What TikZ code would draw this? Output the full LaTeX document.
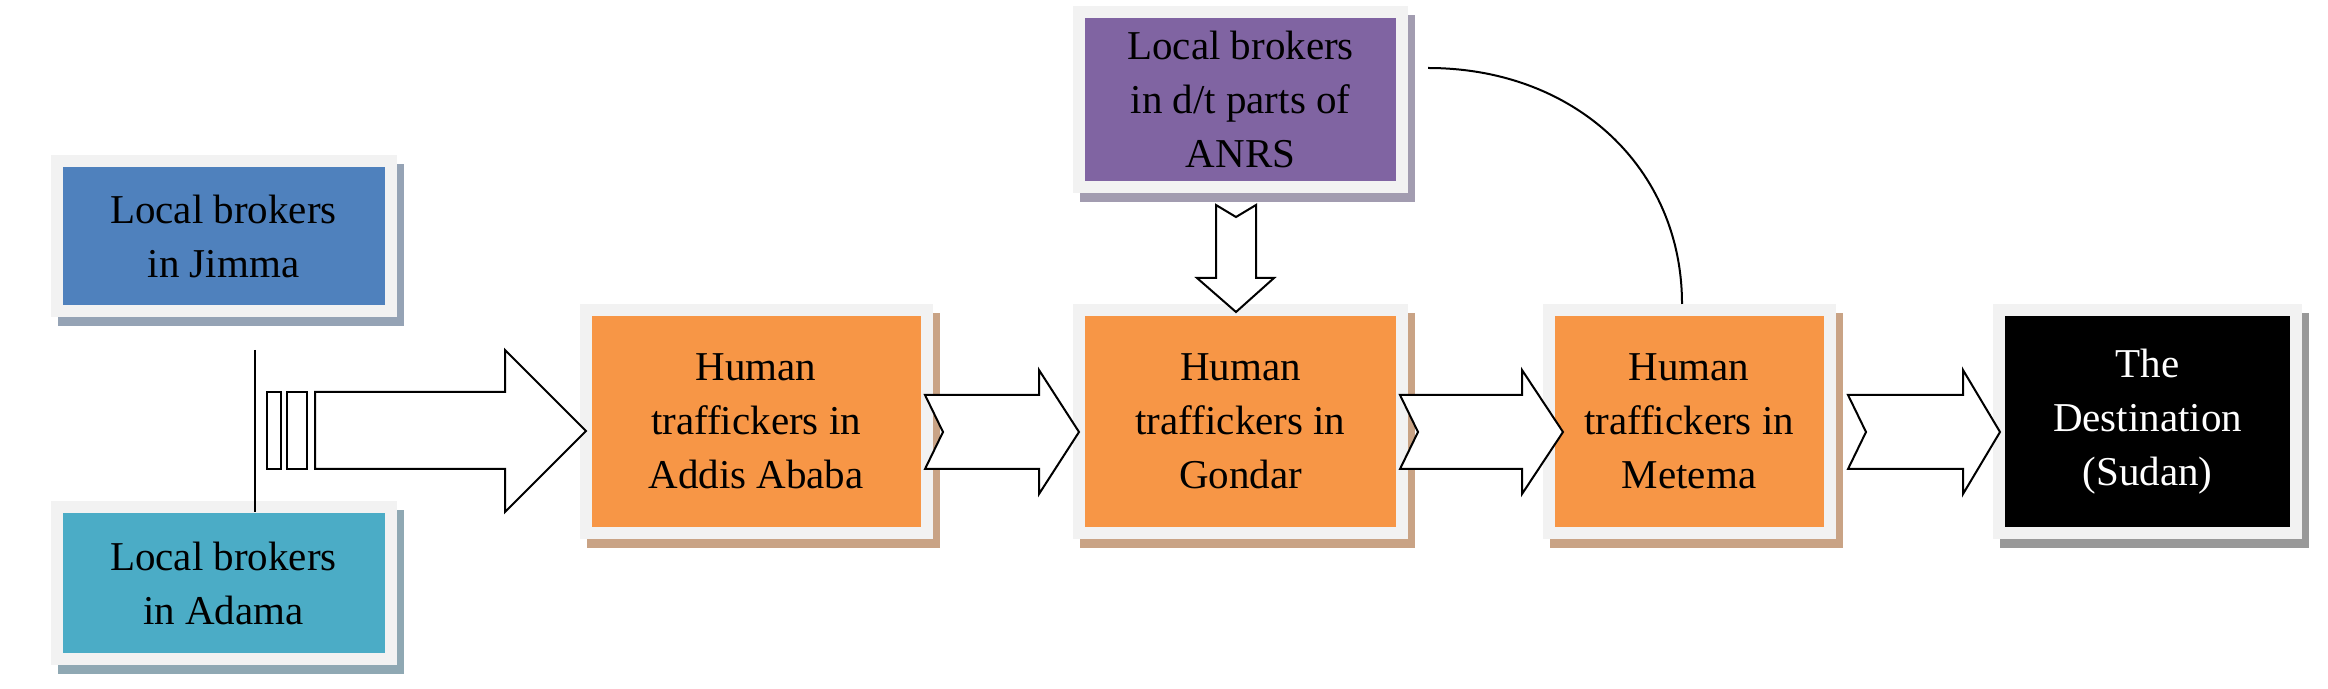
\documentclass[tikz,border=0pt]{standalone}
\usepackage{fontspec}
\setmainfont{Liberation Serif}
\begin{document}
\begin{tikzpicture}[x=1pt,y=1pt,
  box/.style={draw=black!5,line width=12pt,align=center,inner sep=0pt,
    font=\fontsize{41}{54}\selectfont,
    preaction={draw=#1,fill=#1,transform canvas={shift={(7pt,-9pt)}}}},
  blk/.style={draw=black,line width=2pt,fill=white,line join=miter}]
\useasboundingbox (0,0) rectangle (2328,688);
\definecolor{cJ}{HTML}{4F81BD}\definecolor{sJ}{HTML}{95A3B5}
\definecolor{cA}{HTML}{4BACC6}\definecolor{sA}{HTML}{8FA8B3}
\definecolor{cO}{HTML}{F79646}\definecolor{sO}{HTML}{C9A385}
\definecolor{cP}{HTML}{8064A2}\definecolor{sP}{HTML}{A29CB0}
\node[box=sJ,fill=cJ,minimum width=334,minimum height=150] (jim) at (223.5,452) {Local brokers\\in Jimma};
\node[box=sA,fill=cA,minimum width=334,minimum height=152] (ada) at (223.5,105) {Local brokers\\in Adama};
\node[box=sO,fill=cO,minimum width=341,minimum height=223] (add) at (756,266.5) {\raisebox{6pt}{\parbox{320pt}{\centering Human\\traffickers in\\Addis Ababa}}};
\node[box=sO,fill=cO,minimum width=323,minimum height=223] (gon) at (1240.5,266.5) {\raisebox{6pt}{\parbox{300pt}{\centering Human\\traffickers in\\Gondar}}};
\node[box=sO,fill=cO,minimum width=281,minimum height=223] (met) at (1689,266.5) {\raisebox{6pt}{\parbox{260pt}{\centering Human\\traffickers in\\Metema}}};
\node[box=black!40,fill=black,text=white,minimum width=297,minimum height=223] (dst) at (2147.5,266.5) {\raisebox{6pt}{\parbox{280pt}{\centering The\\Destination\\(Sudan)}}};
\node[box=sP,fill=cP,minimum width=323,minimum height=175] (anr) at (1240.5,588.5) {Local brokers\\in d/t parts of\\ANRS};
% merge connector
\draw[line width=2pt] (255,338) -- (255,176);
\draw[blk] (267,219) rectangle (281,296);
\draw[blk] (287,219) rectangle (307,296);
\draw[blk] (315,219) -- (315,296) -- (505,296) -- (505,338) -- (586,257) -- (505,176) -- (505,219) -- cycle;
% chevron arrows
\foreach \a/\n/\b/\t in {925/943/1039/1079,1400/1418/1522/1563,1848/1866/1963/2000}{
  \draw[blk] (\a,293) -- (\b,293) -- (\b,318) -- (\t,256) -- (\b,194) -- (\b,219) -- (\a,219) -- (\n,256) -- cycle;}
% down arrow
\draw[blk] (1216,483) -- (1236,471) -- (1256,483) -- (1256,410) -- (1274,410) -- (1236,376) -- (1197,410) -- (1216,410) -- cycle;
% curve
\coordinate (cs) at (1428,620);
\coordinate (ce) at (1682,384);
\draw[line width=2pt] (cs) .. controls (1575,620) and (1682,520) .. (ce);
\end{tikzpicture}
\end{document}
